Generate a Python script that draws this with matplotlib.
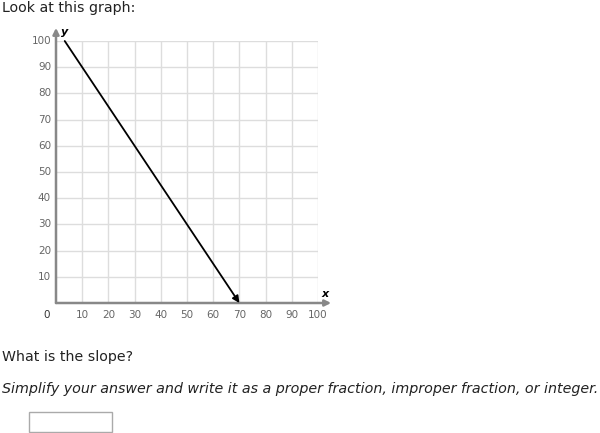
import matplotlib.pyplot as plt
from matplotlib.patches import Rectangle

# graph data
ticks = [10, 20, 30, 40, 50, 60, 70, 80, 90, 100]
line_x = [10 / 3, 70]   # y = -3/2 x + 105, clipped at y = 100
line_y = [100, 0]

W, H = 600, 433
fig = plt.figure(figsize=(W / 100, H / 100), dpi=100)

# axes placed by pixel: origin at (56, 303), 100 at (318, 41)
x0, y0, x1, y1 = 56, 303, 318, 41
ax = fig.add_axes([x0 / W, 1 - y0 / H, (x1 - x0) / W, (y0 - y1) / H])
ax.set_xlim(0, 100)
ax.set_ylim(0, 100)
for s in ax.spines.values():
    s.set_visible(False)
ax.set_xticks([])
ax.set_yticks([])

grid_col = '#dddddd'
for t in ticks:
    ax.plot([t, t], [0, 100], color=grid_col, lw=1, zorder=1)
    ax.plot([0, 100], [t, t], color=grid_col, lw=1, zorder=1)

# axes with arrows
axis_col = '#888888'
ax.annotate('', xy=(105, 0), xytext=(0, 0), annotation_clip=False,
            arrowprops=dict(arrowstyle='-|>', color=axis_col, lw=1.8,
                            mutation_scale=9, shrinkA=0, shrinkB=0))
ax.annotate('', xy=(0, 105), xytext=(0, 0), annotation_clip=False,
            arrowprops=dict(arrowstyle='-|>', color=axis_col, lw=1.8,
                            mutation_scale=9, shrinkA=0, shrinkB=0))

# tick labels
lab_col = '#666666'
for t in ticks:
    ax.text(t, -4.5, str(t), ha='center', va='center', fontsize=7.5, color=lab_col)
    ax.text(-1.9, t, str(t), ha='right', va='center', fontsize=7.5, color=lab_col)
ax.text(-2.3, -4.5, '0', ha='right', va='center', fontsize=7.5, color='#333333')
ax.text(102.5, 3.5, 'x', ha='center', va='center', fontsize=8, fontweight='bold',
        style='italic')
ax.text(3.3, 103.5, 'y', ha='center', va='center', fontsize=8, fontweight='bold',
        style='italic')

# the line
ax.annotate('', xy=(line_x[1], line_y[1]), xytext=(line_x[0], line_y[0]),
            annotation_clip=False,
            arrowprops=dict(arrowstyle='-|>', color='black', lw=1.3,
                            mutation_scale=10, shrinkA=0, shrinkB=0))

# page text
fig.text(2 / W, 1 - 8 / H, 'Look at this graph:', ha='left', va='center',
         fontsize=10.2, color='#222222')
fig.text(2 / W, 1 - 357 / H, 'What is the slope?', ha='left', va='center',
         fontsize=10.2, color='#222222')
fig.text(2 / W, 1 - 389 / H,
         'Simplify your answer and write it as a proper fraction, improper fraction, or integer.',
         ha='left', va='center', fontsize=10.3, style='italic', color='#222222')
fig.patches.append(Rectangle((29 / W, 1 - 432 / H), 83 / W, 20 / H,
                             transform=fig.transFigure, fill=False,
                             edgecolor='#aaaaaa', lw=1))

fig.savefig('out.png', dpi=100)
